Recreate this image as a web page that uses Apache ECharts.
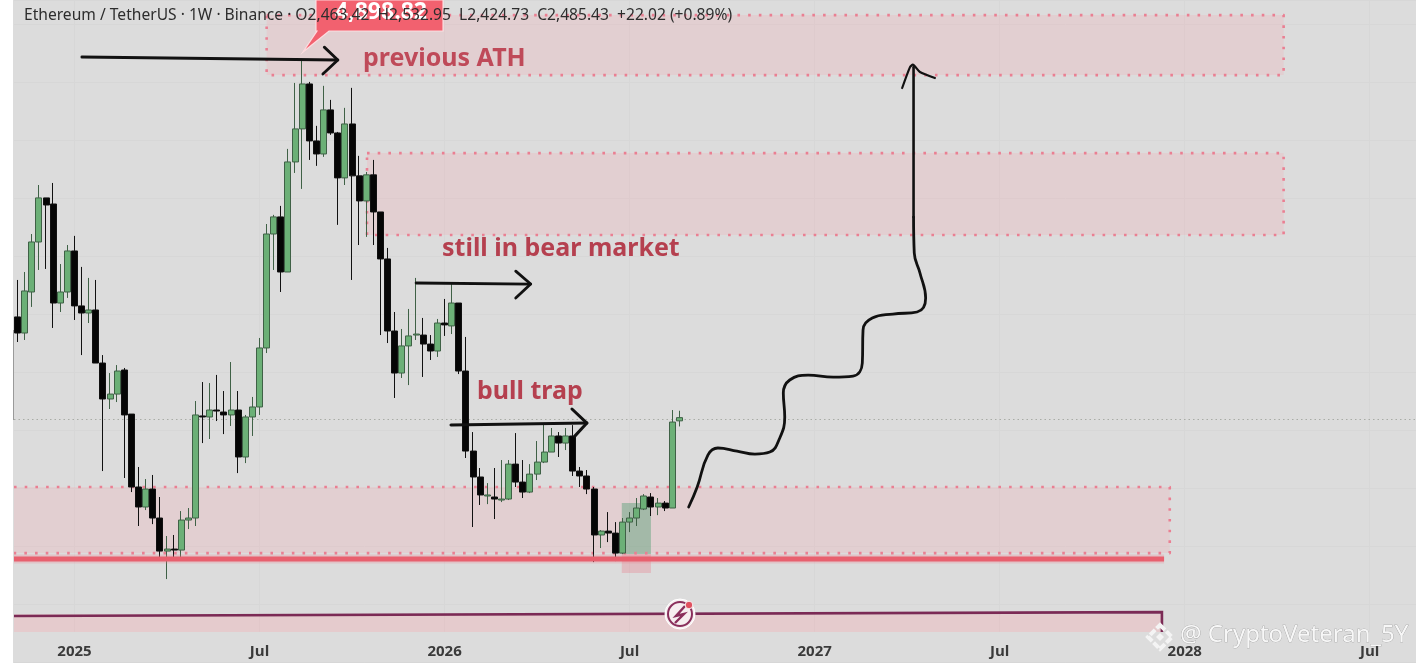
<!DOCTYPE html>
<html><head><meta charset="utf-8">
<style>html,body{margin:0;padding:0;width:1416px;height:663px;overflow:hidden;background:linear-gradient(to right,#fff 13px,#dcdcdc 13px)}#c{width:1416px;height:663px;filter:blur(0.45px)}</style>
<script src="https://cdn.jsdelivr.net/npm/echarts@6/dist/echarts.min.js"></script>
</head><body><div id="c"></div>
<script>
// Weekly candles, oldest first (USDT prices)
const opens=[3180,3069,3352,3697,4001,3959,3276,3352,3635,3256,3207,3228,2862,2614,2648,2814,2510,2007,1869,1993,1793,1565,1579,1572,1779,1793,2497,2490,2538,2524,2504,2538,2214,2490,2559,2966,3752,3870,3490,4249,4477,4787,4394,4304,4608,4449,4139,4511,4153,3980,4160,3904,3580,3083,2793,2980,3055,3055,2993,2945,3138,3118,3276,2807,2255,2076,1945,1938,1917,1924,2165,2041,1972,2096,2179,2248,2359,2310,2359,2117,2083,1993,1676,1703,1689,1551,1765,1793,1855,1938,1869,1896,1862,2463.42];
const closes=[3069,3359,3697,4001,3952,3276,3352,3635,3256,3207,3228,2862,2614,2648,2807,2504,2007,1869,1993,1793,1565,1579,1572,1779,1793,2504,2490,2538,2531,2504,2538,2214,2490,2559,2966,3752,3870,3490,4249,4477,4787,4394,4304,4608,4449,4139,4511,4153,3980,4160,3904,3580,3083,2793,2980,3049,3062,2993,2945,3138,3125,3276,2807,2255,2076,1952,1952,1924,1924,2165,2041,1972,2096,2179,2248,2359,2310,2359,2117,2083,1993,1676,1703,1689,1551,1765,1793,1862,1945,1869,1896,1862,2455,2485.43];
const lows=[3007,3021,3249,3504,3511,3104,3214,3311,3159,2917,3138,2862,2117,2545,2593,2069,1972,1738,1848,1751,1524,1372,1524,1524,1717,1738,2310,2338,2462,2372,2428,2103,2172,2359,2504,2931,3504,3352,3490,4173,4063,4263,4222,4284,4436,3815,4090,3435,3676,3732,3676,3055,3000,2621,2759,2710,3021,2766,2883,2904,3049,3062,2786,2207,1731,1883,1889,1786,1903,1917,2007,1931,1965,2055,2172,2248,2214,2262,2083,2007,1958,1489,1586,1627,1496,1544,1696,1738,1848,1807,1813,1841,1862,2424.73];
const highs=[3435,3490,3752,4090,4001,4104,3545,3676,3739,3525,3449,3435,2917,2793,2848,2828,2510,2145,2062,2090,1938,1669,1676,1841,1862,2600,2731,2724,2780,2669,2869,2669,2504,2628,3035,3821,3884,3946,4339,4794,4956,4801,4498,4774,4677,4456,4622,4760,4291,4180,4263,3904,3656,3214,3097,3235,3449,3173,3055,3166,3304,3414,3276,3042,2386,2138,2034,2138,2193,2193,2379,2193,2165,2324,2441,2414,2386,2414,2434,2145,2124,2007,1710,1834,1765,1793,1834,1931,1958,1965,1931,1910,2538,2532.95];

// Week axis: first candle is the week of 4 Nov 2024
const weekCount=197;
const firstWeek=Date.UTC(2024,10,4);
const weeks=Array.from({length:weekCount},(_,i)=>new Date(firstWeek+i*7*864e5).toISOString().slice(0,10));
const tickWeeks=[8,34,60,86,112,138,164,190];
const tickLabels=['2025','Jul','2026','Jul','2027','Jul','2028','Jul'];
const lastPrice=2476;

// Zones: [first week, last week, top price, bottom price]
const athZone=[35.0,177.9,5262,4848];
const midZone=[49.1,177.9,4310,3745];
const baseZone=[-0.5,161.9,2007,1551];
const supportLine=[[-0.5,1510],[161.1,1510]];
const trendLine=[[-0.5,1117],[160.8,1144],[160.8,1007]];
const lowerBand=[-0.5,160.8,1130,1007];
const rewardBox=[84.9,89.0,1896,1545];
const riskBox=[84.9,89.0,1545,1414];

// Hand-drawn strokes as [week, price]
const wave=[[94.3,1869],[95.5,2007],[97.0,2227],[98.4,2276],[101.1,2255],[103.6,2234],[105.7,2248],[107.1,2345],[107.8,2489],[107.6,2655],[108.5,2745],[111.1,2779],[114.6,2765],[117.4,2772],[118.7,2862],[118.8,3089],[120.1,3172],[123.0,3200],[126.4,3214],[127.6,3310],[126.8,3483],[126.0,3621],[125.9,3869]];
const waveTop=[[125.9,3869],[125.9,4903]];
const waveHead=[[124.3,4759],[125.4,4903],[125.8,4920],[126.8,4869],[128.9,4828]];
const athArrow=[[9.05,4972],[45.0,4952]];
const athHead=[[43.1,5041],[45.0,4952],[42.9,4855]];
const bearArrow=[[56.0,3414],[72.1,3407]];
const bearHead=[[70.0,3496],[72.1,3407],[70.0,3310]];
const trapArrow=[[60.9,2434],[80.0,2448]];
const trapHead=[[77.9,2545],[80.0,2448],[78.3,2358]];

// Texts
const headerText='Ethereum / TetherUS · 1W · Binance · O2,463.42  H2,532.95  L2,424.73  C2,485.43  +22.02 (+0.89%)';
const calloutText='4,898.82';
const notePrev='previous ATH', noteBear='still in bear market', noteTrap='bull trap';
const watermark='@ CryptoVeteran_5Y';

const candles=opens.map((o,i)=>[o,closes[i],lows[i],highs[i]]);
const rect=z=>[[z[0],z[2]],[z[1],z[2]],[z[1],z[3]],[z[0],z[3]],[z[0],z[2]]];
const area=(z,c)=>[{coord:[z[0],z[2]],itemStyle:{color:c}},{coord:[z[1],z[3]]}];
const stroke=(data,opt)=>Object.assign({type:'line',xAxisIndex:1,yAxisIndex:0,symbol:'none',silent:true,animation:false,data,z:5,
  lineStyle:Object.assign({color:'#111',width:2.4,cap:'round',join:'round'},opt&&opt.ls)},opt&&opt.s);
const dots={ls:{color:'#ea7f92',width:2.6,type:[2.6,8.1],cap:'butt'},s:{z:2}};
const zoneFill='rgba(255,150,160,0.18)';
const noteFont='bold 25px "Noto Sans"';

const option={
  animation:false,
  grid:{left:14,right:0,top:0,bottom:1,containLabel:false},
  xAxis:[
    {type:'category',data:weeks,boundaryGap:true,
     axisLine:{show:false},axisTick:{show:false},splitLine:{show:false},
     axisLabel:{show:true,inside:true,margin:3,interval:0,hideOverlap:false,color:'#3a3a3a',fontFamily:'Open Sans',fontWeight:'bold',fontSize:15,
       formatter:(v,i)=>{const k=tickWeeks.indexOf(i);return k<0?'':tickLabels[k];}}},
    {type:'value',min:-0.5,max:196.5,show:false,splitLine:{show:false}}
  ],
  yAxis:[{type:'value',min:800,max:5366,interval:400,
    axisLine:{show:false},axisTick:{show:false},axisLabel:{show:false},
    splitLine:{show:true,lineStyle:{color:'#d7d7d7',width:1}}}],
  series:[
    // grid verticals, zones
    stroke([],{s:{z:1,markLine:{z:0,silent:true,symbol:'none',animation:false,label:{show:false},emphasis:{disabled:true},
       lineStyle:{color:'#d7d7d7',width:1,type:'solid'},
       data:tickWeeks.map(w=>[{coord:[w,1010]},{coord:[w,5366]}]).concat([[{coord:[-0.5,lastPrice],lineStyle:{color:'#a9aca6',type:[1.5,3]}},{coord:[196.5,lastPrice]}]])},
      markArea:{z:1,silent:true,animation:false,data:[area(athZone,zoneFill),area(midZone,zoneFill),area(baseZone,zoneFill),area(lowerBand,'rgba(255,150,160,0.25)')]}}}),
    stroke(rect(athZone),dots),
    stroke(rect(midZone),dots),
    stroke([[baseZone[0],baseZone[2]],[baseZone[1],baseZone[2]],[baseZone[1],baseZone[3]],[baseZone[0],baseZone[3]]],dots),
    // candles
    {type:'candlestick',xAxisIndex:0,yAxisIndex:0,data:candles,barWidth:6.5,z:3,silent:true,animation:false,
     itemStyle:{color:'#6cb077',color0:'#050505',borderColor:'#3f6146',borderColor0:'#111111',borderWidth:1}},
    // position tool over candles
    stroke([],{s:{z:4,markArea:{z:2,silent:true,animation:false,data:[area(rewardBox,'rgba(60,150,100,0.38)'),area(riskBox,'rgba(235,90,110,0.25)')]}}}),
    // support line & lower trend line
    stroke(supportLine,{ls:{color:'rgba(240,120,135,0.25)',width:9,cap:'butt'},s:{z:4}}),
    stroke(supportLine,{ls:{color:'#e8606e',width:5,cap:'butt'},s:{z:4}}),
    stroke(trendLine,{ls:{color:'#7b2a55',width:2.6,cap:'butt',join:'miter'},s:{z:4}}),
    // hand-drawn strokes
    stroke(wave,{ls:{width:2.8},s:{smooth:0.45}}),
    stroke(waveTop,{ls:{width:2.6}}),
    stroke(waveHead,{ls:{width:2.2},s:{smooth:0.2}}),
    stroke(athArrow,{ls:{width:3}}),stroke(athHead,{ls:{width:2.8}}),
    stroke(bearArrow,{ls:{width:2.8}}),stroke(bearHead,{ls:{width:2.8}}),
    stroke(trapArrow,{ls:{width:3}}),stroke(trapHead,{ls:{width:3}})
  ],
  graphic:[
    // left-edge wick of a cut-off candle
    {type:'rect',z:9,shape:{x:13,y:330,width:1,height:90},style:{fill:'#9a9a9a'}},
    // callout
    {type:'polygon',z:20,shape:{points:[[316,0],[443,0],[443,31],[329,31],[303,52],[317,31],[316,31]]},
      style:{fill:'#f2616f',stroke:'rgba(255,225,228,0.9)',lineWidth:1.2}},
    {type:'text',z:21,x:335,y:1,style:{text:calloutText,fill:'#fff',font:'bold 23px "Open Sans"'}},
    {type:'text',z:22,x:24,y:8,style:{text:headerText,fill:'#2d2d2d',font:'15.6px "Noto Sans"'}},
    // notes
    {type:'text',z:23,x:363,y:46,style:{text:notePrev,fill:'#bf4a59',font:noteFont}},
    {type:'text',z:23,x:442,y:236,style:{text:noteBear,fill:'#b5404f',font:noteFont}},
    {type:'text',z:23,x:477,y:379,style:{text:noteTrap,fill:'#b5404f',font:noteFont}},
    // alert icon
    {type:'circle',z:24,shape:{cx:680,cy:614,r:15},style:{fill:'#f6eef0',stroke:'#fff',lineWidth:1}},
    {type:'circle',z:25,shape:{cx:680,cy:614,r:12},style:{fill:'none',stroke:'#8a2f5c',lineWidth:2}},
    {type:'polyline',z:26,shape:{points:[[685,606],[676,616],[684,614],[675,623]]},style:{fill:'none',stroke:'#8a2f5c',lineWidth:2.4}},
    {type:'circle',z:27,shape:{cx:689,cy:605,r:3.8},style:{fill:'#e0505f',stroke:'#f6eef0',lineWidth:1}},
    // watermark
    {type:'polygon',z:28,shape:{points:[[1160,625],[1172,637],[1160,649],[1148,637]]},style:{fill:'none',stroke:'#f4f4f4',lineWidth:4,lineDash:[7,2]}},
    {type:'polygon',z:28,shape:{points:[[1160,633],[1164,637],[1160,641],[1156,637]]},style:{fill:'#f4f4f4'}},
    {type:'text',z:28,x:1180,y:623,style:{text:watermark,fill:'#f7f7f7',font:'24px "Noto Sans"',stroke:'rgba(90,90,90,0.55)',lineWidth:0.6}}
  ]
};
const chart=echarts.init(document.getElementById('c'),null,{renderer:'canvas'});
chart.setOption(option);
</script></body></html>
